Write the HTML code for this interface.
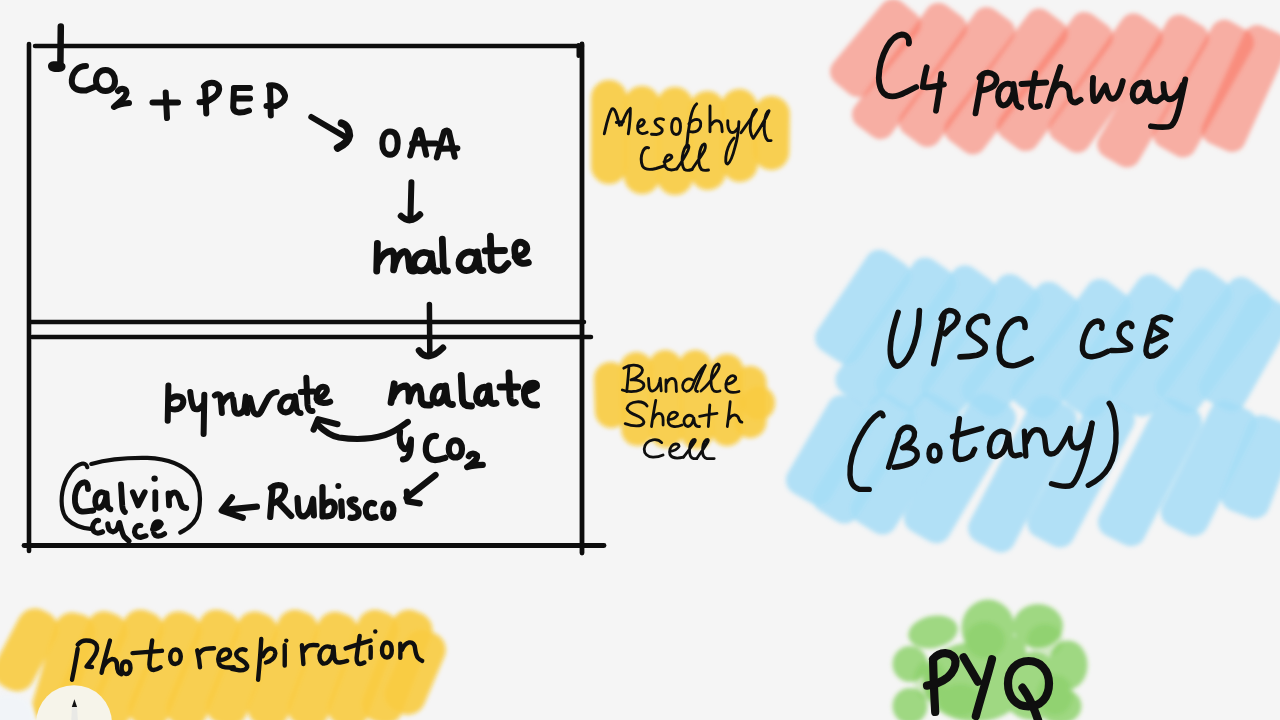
<!DOCTYPE html>
<html><head><meta charset="utf-8"><title>C4 Pathway</title>
<style>
html,body{margin:0;padding:0;background:#f5f5f5;width:1280px;height:720px;overflow:hidden;font-family:"Liberation Sans",sans-serif;}
svg{display:block}
</style></head><body>
<svg width="1280" height="720" viewBox="0 0 1280 720">
<defs>
<filter id="soft" filterUnits="userSpaceOnUse" x="0" y="0" width="1280" height="720"><feGaussianBlur stdDeviation="2"/></filter>
</defs>
<rect width="1280" height="720" fill="#f5f5f5"/>
<g filter="url(#soft)">
<rect x="-52.2" y="-23.0" width="104.4" height="46" rx="13.8" fill="#fa735e" fill-opacity="0.55" transform="translate(875.5 48.0) rotate(-50.1)"/>
<rect x="-74.7" y="-23.0" width="149.4" height="46" rx="13.8" fill="#fa735e" fill-opacity="0.55" transform="translate(909.5 71.0) rotate(-53.4)"/>
<rect x="-76.6" y="-23.0" width="153.2" height="46" rx="13.8" fill="#fa735e" fill-opacity="0.55" transform="translate(957.0 77.0) rotate(-54.0)"/>
<rect x="-81.0" y="-23.0" width="162.0" height="46" rx="13.8" fill="#fa735e" fill-opacity="0.55" transform="translate(1006.0 81.5) rotate(-52.8)"/>
<rect x="-76.2" y="-23.0" width="152.4" height="46" rx="13.8" fill="#fa735e" fill-opacity="0.55" transform="translate(1055.0 81.5) rotate(-53.8)"/>
<rect x="-75.7" y="-23.0" width="151.5" height="46" rx="13.8" fill="#fa735e" fill-opacity="0.55" transform="translate(1105.5 83.0) rotate(-54.9)"/>
<rect x="-81.1" y="-23.0" width="162.2" height="46" rx="13.8" fill="#fa735e" fill-opacity="0.55" transform="translate(1153.0 91.0) rotate(-59.6)"/>
<rect x="-71.9" y="-23.0" width="143.8" height="46" rx="13.8" fill="#fa735e" fill-opacity="0.55" transform="translate(1203.5 88.5) rotate(-60.4)"/>
<rect x="-64.2" y="-23.0" width="128.4" height="46" rx="13.8" fill="#fa735e" fill-opacity="0.55" transform="translate(1244.5 88.5) rotate(-65.6)"/>
</g>
<g filter="url(#soft)"><g opacity="0.36">
<rect x="-59.1" y="-25.0" width="118.2" height="50" rx="15.0" fill="#5cc8f8" fill-opacity="1" transform="translate(863.0 307.0) rotate(-56.0)"/>
<rect x="-80.4" y="-25.0" width="160.9" height="50" rx="15.0" fill="#5cc8f8" fill-opacity="1" transform="translate(896.0 332.0) rotate(-55.1)"/>
<rect x="-78.8" y="-25.0" width="157.6" height="50" rx="15.0" fill="#5cc8f8" fill-opacity="1" transform="translate(936.0 338.0) rotate(-54.3)"/>
<rect x="-76.4" y="-25.0" width="152.8" height="50" rx="15.0" fill="#5cc8f8" fill-opacity="1" transform="translate(981.0 344.0) rotate(-53.0)"/>
<rect x="-74.1" y="-25.0" width="148.2" height="50" rx="15.0" fill="#5cc8f8" fill-opacity="1" transform="translate(1020.5 349.5) rotate(-52.1)"/>
<rect x="-76.4" y="-25.0" width="152.8" height="50" rx="15.0" fill="#5cc8f8" fill-opacity="1" transform="translate(1071.0 349.0) rotate(-53.0)"/>
<rect x="-78.4" y="-25.0" width="156.8" height="50" rx="15.0" fill="#5cc8f8" fill-opacity="1" transform="translate(1121.0 346.5) rotate(-54.1)"/>
<rect x="-80.3" y="-25.0" width="160.7" height="50" rx="15.0" fill="#5cc8f8" fill-opacity="1" transform="translate(1171.5 342.5) rotate(-54.6)"/>
<rect x="-74.0" y="-25.0" width="148.0" height="50" rx="15.0" fill="#5cc8f8" fill-opacity="1" transform="translate(1214.0 345.5) rotate(-53.5)"/>
<rect x="-60.5" y="-25.0" width="120.9" height="50" rx="15.0" fill="#5cc8f8" fill-opacity="1" transform="translate(1245.0 352.5) rotate(-60.3)"/>
<rect x="-55.6" y="-25.0" width="111.1" height="50" rx="15.0" fill="#5cc8f8" fill-opacity="1" transform="translate(830.0 450.0) rotate(-59.7)"/>
<rect x="-67.8" y="-25.0" width="135.7" height="50" rx="15.0" fill="#5cc8f8" fill-opacity="1" transform="translate(864.0 458.5) rotate(-57.9)"/>
<rect x="-74.8" y="-25.0" width="149.6" height="50" rx="15.0" fill="#5cc8f8" fill-opacity="1" transform="translate(905.5 463.5) rotate(-58.1)"/>
<rect x="-78.9" y="-25.0" width="157.8" height="50" rx="15.0" fill="#5cc8f8" fill-opacity="1" transform="translate(960.0 468.0) rotate(-59.5)"/>
<rect x="-81.2" y="-25.0" width="162.4" height="50" rx="15.0" fill="#5cc8f8" fill-opacity="1" transform="translate(1022.5 474.0) rotate(-62.5)"/>
<rect x="-78.7" y="-25.0" width="157.5" height="50" rx="15.0" fill="#5cc8f8" fill-opacity="1" transform="translate(1081.0 471.5) rotate(-62.0)"/>
<rect x="-76.5" y="-25.0" width="153.0" height="50" rx="15.0" fill="#5cc8f8" fill-opacity="1" transform="translate(1150.0 472.0) rotate(-62.8)"/>
<rect x="-69.3" y="-25.0" width="138.6" height="50" rx="15.0" fill="#5cc8f8" fill-opacity="1" transform="translate(1209.0 468.0) rotate(-63.4)"/>
<rect x="-50.3" y="-25.0" width="100.7" height="50" rx="15.0" fill="#5cc8f8" fill-opacity="1" transform="translate(1258.0 467.0) rotate(-69.0)"/>
</g>
<rect x="-59.1" y="-25.0" width="118.2" height="50" rx="15.0" fill="#5cc8f8" fill-opacity="0.13" transform="translate(863.0 307.0) rotate(-56.0)"/>
<rect x="-80.4" y="-25.0" width="160.9" height="50" rx="15.0" fill="#5cc8f8" fill-opacity="0.13" transform="translate(896.0 332.0) rotate(-55.1)"/>
<rect x="-78.8" y="-25.0" width="157.6" height="50" rx="15.0" fill="#5cc8f8" fill-opacity="0.13" transform="translate(936.0 338.0) rotate(-54.3)"/>
<rect x="-76.4" y="-25.0" width="152.8" height="50" rx="15.0" fill="#5cc8f8" fill-opacity="0.13" transform="translate(981.0 344.0) rotate(-53.0)"/>
<rect x="-74.1" y="-25.0" width="148.2" height="50" rx="15.0" fill="#5cc8f8" fill-opacity="0.13" transform="translate(1020.5 349.5) rotate(-52.1)"/>
<rect x="-76.4" y="-25.0" width="152.8" height="50" rx="15.0" fill="#5cc8f8" fill-opacity="0.13" transform="translate(1071.0 349.0) rotate(-53.0)"/>
<rect x="-78.4" y="-25.0" width="156.8" height="50" rx="15.0" fill="#5cc8f8" fill-opacity="0.13" transform="translate(1121.0 346.5) rotate(-54.1)"/>
<rect x="-80.3" y="-25.0" width="160.7" height="50" rx="15.0" fill="#5cc8f8" fill-opacity="0.13" transform="translate(1171.5 342.5) rotate(-54.6)"/>
<rect x="-74.0" y="-25.0" width="148.0" height="50" rx="15.0" fill="#5cc8f8" fill-opacity="0.13" transform="translate(1214.0 345.5) rotate(-53.5)"/>
<rect x="-60.5" y="-25.0" width="120.9" height="50" rx="15.0" fill="#5cc8f8" fill-opacity="0.13" transform="translate(1245.0 352.5) rotate(-60.3)"/>
<rect x="-55.6" y="-25.0" width="111.1" height="50" rx="15.0" fill="#5cc8f8" fill-opacity="0.13" transform="translate(830.0 450.0) rotate(-59.7)"/>
<rect x="-67.8" y="-25.0" width="135.7" height="50" rx="15.0" fill="#5cc8f8" fill-opacity="0.13" transform="translate(864.0 458.5) rotate(-57.9)"/>
<rect x="-74.8" y="-25.0" width="149.6" height="50" rx="15.0" fill="#5cc8f8" fill-opacity="0.13" transform="translate(905.5 463.5) rotate(-58.1)"/>
<rect x="-78.9" y="-25.0" width="157.8" height="50" rx="15.0" fill="#5cc8f8" fill-opacity="0.13" transform="translate(960.0 468.0) rotate(-59.5)"/>
<rect x="-81.2" y="-25.0" width="162.4" height="50" rx="15.0" fill="#5cc8f8" fill-opacity="0.13" transform="translate(1022.5 474.0) rotate(-62.5)"/>
<rect x="-78.7" y="-25.0" width="157.5" height="50" rx="15.0" fill="#5cc8f8" fill-opacity="0.13" transform="translate(1081.0 471.5) rotate(-62.0)"/>
<rect x="-76.5" y="-25.0" width="153.0" height="50" rx="15.0" fill="#5cc8f8" fill-opacity="0.13" transform="translate(1150.0 472.0) rotate(-62.8)"/>
<rect x="-69.3" y="-25.0" width="138.6" height="50" rx="15.0" fill="#5cc8f8" fill-opacity="0.13" transform="translate(1209.0 468.0) rotate(-63.4)"/>
<rect x="-50.3" y="-25.0" width="100.7" height="50" rx="15.0" fill="#5cc8f8" fill-opacity="0.13" transform="translate(1258.0 467.0) rotate(-69.0)"/>
</g>
<g filter="url(#soft)">
<g opacity="0.64">
<rect x="-52.0" y="-18.0" width="104.0" height="36" rx="18.0" fill="#f9c010" fill-opacity="1" transform="translate(609.0 132.0) rotate(-90.0)"/>
<rect x="-54.0" y="-18.0" width="108.0" height="36" rx="18.0" fill="#f9c010" fill-opacity="1" transform="translate(642.0 140.0) rotate(-90.0)"/>
<rect x="-54.0" y="-18.0" width="108.0" height="36" rx="18.0" fill="#f9c010" fill-opacity="1" transform="translate(675.0 141.0) rotate(-90.0)"/>
<rect x="-49.5" y="-18.0" width="99.0" height="36" rx="18.0" fill="#f9c010" fill-opacity="1" transform="translate(707.5 140.5) rotate(-90.6)"/>
<rect x="-46.5" y="-18.0" width="93.0" height="36" rx="18.0" fill="#f9c010" fill-opacity="1" transform="translate(739.5 135.5) rotate(-90.6)"/>
<rect x="-37.0" y="-18.0" width="74.0" height="36" rx="18.0" fill="#f9c010" fill-opacity="1" transform="translate(771.5 133.0) rotate(-89.2)"/>
<rect x="-33.0" y="-16.5" width="66.0" height="33" rx="16.5" fill="#f9c010" fill-opacity="1" transform="translate(611.0 395.0) rotate(-91.7)"/>
<rect x="-47.0" y="-16.5" width="94.0" height="33" rx="16.5" fill="#f9c010" fill-opacity="1" transform="translate(637.0 399.0) rotate(-91.2)"/>
<rect x="-49.0" y="-16.5" width="98.0" height="33" rx="16.5" fill="#f9c010" fill-opacity="1" transform="translate(666.0 399.0) rotate(-91.2)"/>
<rect x="-49.5" y="-16.5" width="99.0" height="33" rx="16.5" fill="#f9c010" fill-opacity="1" transform="translate(696.0 399.5) rotate(-91.2)"/>
<rect x="-46.0" y="-16.5" width="92.0" height="33" rx="16.5" fill="#f9c010" fill-opacity="1" transform="translate(727.0 400.0) rotate(-90.0)"/>
<rect x="-36.0" y="-16.5" width="72.0" height="33" rx="16.5" fill="#f9c010" fill-opacity="1" transform="translate(750.0 402.0) rotate(-90.0)"/>
<rect x="-17.1" y="-16.5" width="34.1" height="33" rx="16.5" fill="#f9c010" fill-opacity="1" transform="translate(758.5 403.0) rotate(-85.0)"/>
<rect x="-42.9" y="-21.0" width="85.9" height="42" rx="18.0" fill="#f9c010" fill-opacity="1" transform="translate(26.0 650.0) rotate(-62.2)"/>
<rect x="-57.3" y="-21.0" width="114.6" height="42" rx="18.0" fill="#f9c010" fill-opacity="1" transform="translate(64.0 669.0) rotate(-73.8)"/>
<rect x="-60.9" y="-21.0" width="121.9" height="42" rx="18.0" fill="#f9c010" fill-opacity="1" transform="translate(90.0 670.0) rotate(-66.8)"/>
<rect x="-61.5" y="-21.0" width="122.9" height="42" rx="18.0" fill="#f9c010" fill-opacity="1" transform="translate(127.0 669.0) rotate(-68.0)"/>
<rect x="-60.5" y="-21.0" width="121.1" height="42" rx="18.0" fill="#f9c010" fill-opacity="1" transform="translate(165.0 670.0) rotate(-67.7)"/>
<rect x="-61.5" y="-21.0" width="122.9" height="42" rx="18.0" fill="#f9c010" fill-opacity="1" transform="translate(203.0 669.0) rotate(-68.0)"/>
<rect x="-59.2" y="-21.0" width="118.5" height="42" rx="18.0" fill="#f9c010" fill-opacity="1" transform="translate(242.0 669.0) rotate(-68.2)"/>
<rect x="-60.7" y="-21.0" width="121.5" height="42" rx="18.0" fill="#f9c010" fill-opacity="1" transform="translate(283.0 669.0) rotate(-69.8)"/>
<rect x="-59.8" y="-21.0" width="119.6" height="42" rx="18.0" fill="#f9c010" fill-opacity="1" transform="translate(323.0 670.0) rotate(-69.4)"/>
<rect x="-60.7" y="-21.0" width="121.5" height="42" rx="18.0" fill="#f9c010" fill-opacity="1" transform="translate(363.0 669.0) rotate(-69.8)"/>
<rect x="-58.9" y="-21.0" width="117.7" height="42" rx="18.0" fill="#f9c010" fill-opacity="1" transform="translate(397.0 667.0) rotate(-69.1)"/>
<rect x="-43.5" y="-21.0" width="86.9" height="42" rx="18.0" fill="#f9c010" fill-opacity="1" transform="translate(415.0 672.0) rotate(-67.0)"/>
</g>
<g opacity="1">
<rect x="-52.0" y="-18.0" width="104.0" height="36" rx="18.0" fill="#f9c010" fill-opacity="0.22" transform="translate(609.0 132.0) rotate(-90.0)"/>
<rect x="-54.0" y="-18.0" width="108.0" height="36" rx="18.0" fill="#f9c010" fill-opacity="0.22" transform="translate(642.0 140.0) rotate(-90.0)"/>
<rect x="-54.0" y="-18.0" width="108.0" height="36" rx="18.0" fill="#f9c010" fill-opacity="0.22" transform="translate(675.0 141.0) rotate(-90.0)"/>
<rect x="-49.5" y="-18.0" width="99.0" height="36" rx="18.0" fill="#f9c010" fill-opacity="0.22" transform="translate(707.5 140.5) rotate(-90.6)"/>
<rect x="-46.5" y="-18.0" width="93.0" height="36" rx="18.0" fill="#f9c010" fill-opacity="0.22" transform="translate(739.5 135.5) rotate(-90.6)"/>
<rect x="-37.0" y="-18.0" width="74.0" height="36" rx="18.0" fill="#f9c010" fill-opacity="0.22" transform="translate(771.5 133.0) rotate(-89.2)"/>
<rect x="-33.0" y="-16.5" width="66.0" height="33" rx="16.5" fill="#f9c010" fill-opacity="0.22" transform="translate(611.0 395.0) rotate(-91.7)"/>
<rect x="-47.0" y="-16.5" width="94.0" height="33" rx="16.5" fill="#f9c010" fill-opacity="0.22" transform="translate(637.0 399.0) rotate(-91.2)"/>
<rect x="-49.0" y="-16.5" width="98.0" height="33" rx="16.5" fill="#f9c010" fill-opacity="0.22" transform="translate(666.0 399.0) rotate(-91.2)"/>
<rect x="-49.5" y="-16.5" width="99.0" height="33" rx="16.5" fill="#f9c010" fill-opacity="0.22" transform="translate(696.0 399.5) rotate(-91.2)"/>
<rect x="-46.0" y="-16.5" width="92.0" height="33" rx="16.5" fill="#f9c010" fill-opacity="0.22" transform="translate(727.0 400.0) rotate(-90.0)"/>
<rect x="-36.0" y="-16.5" width="72.0" height="33" rx="16.5" fill="#f9c010" fill-opacity="0.22" transform="translate(750.0 402.0) rotate(-90.0)"/>
<rect x="-17.1" y="-16.5" width="34.1" height="33" rx="16.5" fill="#f9c010" fill-opacity="0.22" transform="translate(758.5 403.0) rotate(-85.0)"/>
<rect x="-42.9" y="-21.0" width="85.9" height="42" rx="18.0" fill="#f9c010" fill-opacity="0.22" transform="translate(26.0 650.0) rotate(-62.2)"/>
<rect x="-57.3" y="-21.0" width="114.6" height="42" rx="18.0" fill="#f9c010" fill-opacity="0.22" transform="translate(64.0 669.0) rotate(-73.8)"/>
<rect x="-60.9" y="-21.0" width="121.9" height="42" rx="18.0" fill="#f9c010" fill-opacity="0.22" transform="translate(90.0 670.0) rotate(-66.8)"/>
<rect x="-61.5" y="-21.0" width="122.9" height="42" rx="18.0" fill="#f9c010" fill-opacity="0.22" transform="translate(127.0 669.0) rotate(-68.0)"/>
<rect x="-60.5" y="-21.0" width="121.1" height="42" rx="18.0" fill="#f9c010" fill-opacity="0.22" transform="translate(165.0 670.0) rotate(-67.7)"/>
<rect x="-61.5" y="-21.0" width="122.9" height="42" rx="18.0" fill="#f9c010" fill-opacity="0.22" transform="translate(203.0 669.0) rotate(-68.0)"/>
<rect x="-59.2" y="-21.0" width="118.5" height="42" rx="18.0" fill="#f9c010" fill-opacity="0.22" transform="translate(242.0 669.0) rotate(-68.2)"/>
<rect x="-60.7" y="-21.0" width="121.5" height="42" rx="18.0" fill="#f9c010" fill-opacity="0.22" transform="translate(283.0 669.0) rotate(-69.8)"/>
<rect x="-59.8" y="-21.0" width="119.6" height="42" rx="18.0" fill="#f9c010" fill-opacity="0.22" transform="translate(323.0 670.0) rotate(-69.4)"/>
<rect x="-60.7" y="-21.0" width="121.5" height="42" rx="18.0" fill="#f9c010" fill-opacity="0.22" transform="translate(363.0 669.0) rotate(-69.8)"/>
<rect x="-58.9" y="-21.0" width="117.7" height="42" rx="18.0" fill="#f9c010" fill-opacity="0.22" transform="translate(397.0 667.0) rotate(-69.1)"/>
<rect x="-43.5" y="-21.0" width="86.9" height="42" rx="18.0" fill="#f9c010" fill-opacity="0.22" transform="translate(415.0 672.0) rotate(-67.0)"/>
</g>
</g>
<g filter="url(#soft)"><g fill="#5cc02a" opacity="0.56">
<ellipse cx="988" cy="628" rx="26.5" ry="28.5" transform="rotate(0 988 628)"/>
<ellipse cx="1038" cy="626" rx="25" ry="22" transform="rotate(0 1038 626)"/>
<ellipse cx="933" cy="632" rx="25" ry="16" transform="rotate(-12 933 632)"/>
<ellipse cx="910" cy="664" rx="17.5" ry="18" transform="rotate(0 910 664)"/>
<ellipse cx="910" cy="706" rx="17.5" ry="18" transform="rotate(0 910 706)"/>
<ellipse cx="1068" cy="665" rx="19.5" ry="24.5" transform="rotate(0 1068 665)"/>
<ellipse cx="1060" cy="706" rx="21.5" ry="18" transform="rotate(0 1060 706)"/>
<ellipse cx="975" cy="682" rx="52" ry="40" transform="rotate(0 975 682)"/>
<ellipse cx="1032" cy="686" rx="32" ry="34" transform="rotate(0 1032 686)"/>
<ellipse cx="1012" cy="650" rx="14" ry="14" transform="rotate(0 1012 650)"/>
</g>
<g fill="#5cc02a" opacity="0.22">
<ellipse cx="985" cy="640" rx="20" ry="18" transform="rotate(0 985 640)"/>
<ellipse cx="1045" cy="640" rx="18" ry="16" transform="rotate(0 1045 640)"/>
<ellipse cx="930" cy="680" rx="16" ry="20" transform="rotate(0 930 680)"/>
<ellipse cx="1055" cy="695" rx="18" ry="20" transform="rotate(0 1055 695)"/>
<ellipse cx="960" cy="700" rx="22" ry="16" transform="rotate(0 960 700)"/>
</g></g>
<g stroke="#0d0d0d" stroke-linecap="round" fill="none">
<path d="M29 44 L29 551" stroke-width="4.6"/>
<path d="M35 46 L582 46" stroke-width="4.5"/>
<path d="M582 44 L582 553" stroke-width="4.8"/>
<path d="M578.6 45 L578.6 56" stroke-width="4.2"/>
<path d="M31 322 L584 322" stroke-width="4.5"/>
<path d="M32 337 L591 337" stroke-width="4.5"/>
<path d="M24 545.5 L604 545.5" stroke-width="4.8"/>
</g>
<g fill="none" stroke="#0f0f0f" stroke-width="6.5" stroke-linecap="round" stroke-linejoin="round" ><path d="M60.8 26.5 L60.4 63"/></g><path d="M48 66 C48 61.5 53 60.5 58 61.5 C62 62 66 63 65.5 67 C65 71.5 60 72.5 55 72 C50.5 71.5 48 69.5 48 66 Z" fill="#0f0f0f"/><g fill="none" stroke="#0f0f0f" stroke-width="6" stroke-linecap="round" stroke-linejoin="round" ><path d="M86 66 C78 66 72.5 72 71.8 80 C71.2 88 77 91 86 90.5 L94.5 87"/><path d="M105.5 70 C112 70 115 76 115 81 C115 87 111 91 105.5 91 C99.5 91 96 86 96 80.5 C96 75 99.5 70 105.5 70 Z"/><path d="M118 91 C121 87.5 126.5 88.5 126.5 93 C126 98 118 103 114 107 C118 104.5 124 103.5 129 103"/><path d="M152.5 102.6 L178 102.6"/><path d="M165.7 92.5 L167 118"/><path d="M205 86 L206.3 113.4"/><path d="M204 86.5 C208 82 215 81 218.8 86.5 C220.5 92.5 215 97.5 209.5 100.2"/><path d="M199.5 102.2 L207 101.8"/><path d="M234 88 L250 88"/><path d="M234 88.5 L233.2 107.5 C234 113 240 114 249 110.5"/><path d="M235.5 98.4 L250 98.4"/><path d="M270 86.3 L270.8 115.5"/><path d="M269 85.5 C276 84 283 88 285 95.5 C285.5 101 280.5 104 276 106"/><path d="M266.5 106 L272.5 106"/><path d="M311.3 117 L345.2 136.9"/><path d="M390 131.5 C396 131.5 397.7 137 397.7 143 C397.7 150 395 154.8 390 154.8 C385 154.8 382.3 150 382.3 143 C382.3 136.5 385 131.5 390 131.5 Z"/><path d="M410.2 155.5 L416.9 131.6 Q419.5 128.5 421 131.5 L426.2 154.8"/><path d="M412.2 143.5 L436.1 143.5"/><path d="M436.8 157.5 L444.1 131.6 Q447.4 129 449 132 L454.7 156.8"/><path d="M442.8 148.8 L457.4 148.2"/><path d="M411.4 182.3 L410.4 219.5"/></g><g fill="none" stroke="#0f0f0f" stroke-width="6.5" stroke-linecap="round" stroke-linejoin="round" ><path d="M401 216 Q410 225 420 214.5"/></g><g fill="none" stroke="#0f0f0f" stroke-width="7.6" stroke-linecap="round" stroke-linejoin="round" ><path d="M341.5 123.2 C346.5 124.5 349.3 130 349.4 135.5 C348.5 140.5 344 145 337.6 148"/></g><g fill="none" stroke="#0f0f0f" stroke-width="6.8" stroke-linecap="round" stroke-linejoin="round" ><path d="M377.4 243.5 L376.7 271.2"/><path d="M378.1 262.5 C381 256 386 251 392 250.8 C395 252 394.5 262 393.6 269.8 C395 262 399 252 405 251.5 C409 252 408.7 262 409.5 268 C410 271 412 271.5 414.6 271"/><path d="M429.1 253.7 C421 249.5 414 256 413.6 263.5 C413.5 270 420 272 425 270 C430 267 432 259 431.3 253.7 L432.8 266.5 C433.5 270.5 435.5 271.5 438 271"/><path d="M442.3 239.1 L443.3 266.5 C444 270.5 445.5 271.2 447.5 271"/><path d="M476 254 C468 249 459.5 254 459 263 C459 270 466 272 471 269.5 C476 266.5 477.5 258 477.2 252 L479 266.5 C479.5 270 481 271 483 270.5"/><path d="M490.4 236.2 L491.3 264 C492 270 499 271.5 503 269 L507.9 263.5"/><path d="M485 250.8 L504.5 250.5"/><path d="M515.1 256.6 C520 256.5 525.5 254.5 526.8 249 C527 243.5 521 241 517.5 243 C514 245.5 514.3 252 516.3 258.5 C518 263 523 264.5 528.3 262.5"/></g>
<g fill="none" stroke="#0f0f0f" stroke-width="5.5" stroke-linecap="round" stroke-linejoin="round" ><path d="M429.4 304.5 L429.8 355"/></g><g fill="none" stroke="#0f0f0f" stroke-width="6.5" stroke-linecap="round" stroke-linejoin="round" ><path d="M419 350.5 Q428 363 443 347.8"/></g><g fill="none" stroke="#0f0f0f" stroke-width="6.8" stroke-linecap="round" stroke-linejoin="round" ><path d="M394.2 383.8 L391 402.5"/><path d="M392.9 397.4 C395 391 400 386 405.8 385.8 C409 387 409.2 394 409 401.2 C410 395 413 387 418 386.5 C421 388 421.2 395 421.2 400.5 C422 404.5 426 405.5 430.3 405"/><path d="M443.5 387 C438 384.5 433.5 390 433 397.5 C433 402 437 404 440 402.5 C444 400 445.5 394 445.5 386 L447 399.5 C447.5 403.5 450 404.8 452.5 404.5"/><path d="M461.2 375.5 L462.5 400 C463 404.5 466 406.2 471.5 406"/><path d="M487.5 388 C482 385.5 477 390 476.5 397 C476.5 402 480 404.5 483.5 403 C487 401 489 395 488.8 386 L489.8 399.5 C490.5 403.5 493 404 496 403.2"/><path d="M508.9 372.9 L510 397.5 C510.5 403 513 404 515.3 402.5"/><path d="M500 387 L517.9 387"/><path d="M524.3 391 C528 391 533 389.5 536.5 386.5 C537 383 533 382.5 529 384 C525 386 523.5 392 525 398.5 C526.5 403.5 531 405.5 536.6 405"/></g><g fill="none" stroke="#0f0f0f" stroke-width="6.2" stroke-linecap="round" stroke-linejoin="round" ><path d="M407.8 421.9 C402 426 395 432 385 435 C372 439 355 440 339 437.5 C331 436 325 432 318 425"/><path d="M337.5 424.2 L318 419.2 L313.6 429.6"/><path d="M400 431.5 C399 440 400 446 404 448.8 C407.5 450 410 445 410.9 439.5 M410.9 439.5 C411 447 410.5 453 408.5 456 C407 458.5 404.5 459.5 403 459.4"/><path d="M436 436 C431 435 427 439 426 446 C425 454 428 459.5 434 460 C439 460.3 442 459 445.3 457.8"/><path d="M455.4 440.3 C460 440.3 462 444.5 462 449 C462 454.5 459.5 457.5 455.4 457.5 C451 457.5 448.8 453.5 448.8 449 C448.8 444 451 440.3 455.4 440.3 Z"/><path d="M468.8 456.2 C470 453.5 474 452.5 477 455.5 C478 459 472.5 464 467.2 467.2 C472 465.5 477 465 482.8 464.8"/><path d="M435.6 475 L406.5 498"/><path d="M406.8 491.5 L407.6 501.4 L419.7 503.4"/></g><g fill="none" stroke="#0f0f0f" stroke-width="6" stroke-linecap="round" stroke-linejoin="round" ><path d="M168.4 385.5 L167.7 420.7"/><path d="M170.5 398.9 C173 396.5 177 395.5 181 397 C184.5 399.5 184 404.5 180 408 C177 410 174 409.8 171.5 409"/><path d="M190.2 391.9 C191 399 191.5 405 194 408.5 C197 410.5 200.5 408.5 202.5 405.5 M204.3 394.7 L203.6 434"/><path d="M214.9 395.4 C217 393.5 219.5 393.8 220.5 396.5 L221.9 413 M221.9 403.5 C224 399 227.5 395.5 231.7 394.7"/><path d="M233.1 398.9 L234.5 410.5 C236 415 241 415.5 244.4 408.8 L245.8 396.5 L247.2 413"/><path d="M250 398 L253 410.5 C255 415.5 258.5 416 261 411.5 L267 400 C269 395.5 272 392.5 276.7 392"/><path d="M294.5 398 C289 394.5 283 397 280.5 404 C279 410 283 413.5 288 412 C292.5 410.5 294.5 404 295 396 L296.4 408.5 C297.5 412.5 299 413.2 300.6 413"/><path d="M306.3 377.8 L307.5 405 C308 410 310 411.5 312.5 411"/><path d="M300.8 391.9 L313.3 391.5"/><path d="M316.5 398.9 C320 398.5 324.5 396 326.8 391 C327.2 387 323 385.5 319.8 388 C316.5 391 315.8 397 317.5 401 C320 403.5 326 403.5 330.2 401.7"/></g><g fill="none" stroke="#0f0f0f" stroke-width="4.2" stroke-linecap="round" stroke-linejoin="round" ><path d="M87.3 467.2 C86.5 464 84 463 81.5 463.8 C74 466 67 475 63.5 487 C60 500 61.5 513 67 519 C73.5 525.5 83 528.5 92 529.2"/><path d="M91.3 463.9 C105 460 125 457.5 147.3 457.9 C163 458.5 181 462 193.5 476.4 C200 485 201 499 198.8 512 C196.5 522 190 528 180.3 532.5"/></g><g fill="none" stroke="#0f0f0f" stroke-width="5.8" stroke-linecap="round" stroke-linejoin="round" ><path d="M88 489 C88 484 86.5 482 84 482.3 C79 483 76 489 75 496 C74.2 505 77 511 82 511.5 C86 511.8 90 510.8 93.3 510.5"/><path d="M106 494 C101 490 97 493 95.5 498 C94.5 504 96 507.5 99 507.8 C103 507.5 106 501 106.5 493.5 L107.1 505 C108 508 109 509 110.4 509.4"/><path d="M121 484.3 L122.3 506 C122.8 510 124 511.5 124.9 512"/><path d="M132.8 492.2 L138.1 505.4 L144.7 492.2"/><path d="M155.3 492.2 L155.3 509"/><path d="M168.5 493.5 L169.1 505.4 M169.5 497 C171 493.5 173.5 492.2 175.5 492.5 C178.5 493.5 179.5 499 181 504 C182 507 184 508 186.3 508"/></g><circle cx="154.6" cy="478.6" r="3.2" fill="#0f0f0f"/><g fill="none" stroke="#0f0f0f" stroke-width="5.2" stroke-linecap="round" stroke-linejoin="round" ><path d="M98.5 520.5 C96 520 93 523 92.5 527 C92.5 531.5 95.5 533.5 99 533 C100.5 532.7 101.5 532.3 102.5 531.8"/><path d="M107.8 523.9 C108 528 109.5 531.5 113 531.8 C116 531.5 118 528.5 118.8 523 M119.6 522.6 C121 528 122 533 124 536.5 L128.9 541"/><path d="M140.8 525.5 C137 525 134.5 528 134.5 532 C135 536 138 537.5 141 537.3 L146 535.8"/><path d="M152.6 529.2 C156 529.5 160 527 161.2 523.9 C160 521 156 521.2 154 524.5 C152.5 528 152.8 533 155.5 535.5 C158.5 537 162 535.5 164.5 533.8"/></g><g fill="none" stroke="#0f0f0f" stroke-width="6.2" stroke-linecap="round" stroke-linejoin="round" ><path d="M256.9 506.7 L224 509.8"/><path d="M231.9 497.3 L221.7 510.6 L242.8 517.7"/><path d="M272.5 488.75 L270.2 516.9"/><path d="M270.9 488 C273 486 277 484.5 282 485.5 C285.5 487 286 491 283.5 495.5 C281.5 499 277.5 501.5 274 502.8 M278.75 502.8 L291.25 516"/><path d="M297.5 498 L298.3 511 C299 515.5 302 517.2 305 516 C309 514 311 509 313 499 L313.9 515.3"/><path d="M322.5 487.2 L322.5 516.5 M323.3 507 C325.5 502.5 330 500.5 333 502.5 C336 505.5 335 512 331.9 515 C329 516.5 326 516.5 324 516"/><path d="M341.25 501.25 L342 516"/><path d="M355.3 499.7 C353 498.8 350 499.5 349.5 502 C349.5 505 353 506.5 356 508 C359 510 359.5 514 357 516.5 C355 518 352 518 350.6 517.7"/><path d="M374 503.5 C370 501.5 366.5 504 365.8 509.5 C365.5 515 368 518 372 517.8 L375.6 516.9"/><path d="M388.5 503.5 C392.5 503.5 393.5 507.5 393.3 511 C393 515.5 391 518 388 518 C384.5 518 383 514.5 383.3 510.5 C383.5 506.5 385.5 503.5 388.5 503.5 Z"/></g><circle cx="338.3" cy="486" r="3" fill="#0f0f0f"/>
<g fill="none" stroke="#0f0f0f" stroke-width="2.9" stroke-linecap="round" stroke-linejoin="round" ><path d="M604.3 133.8 C606.5 124 608.5 114 611.8 109 C613.8 107.5 615.5 111 617 116 L619.5 125.3"/><path d="M616.3 122.5 C618.5 122 621 121.8 623.3 121.8"/><path d="M621.5 125 C624 118 627 111 630.3 108.4 C630.5 116 629.5 126 628.3 133.8"/><path d="M638.8 126.7 C640.5 126.5 643 126 644.4 122 C644 119.5 641.5 119 640 120.5 C637.5 123 637 128 638.3 131.2 C640 134 644 134 647.2 132.3"/><path d="M663.5 119.5 C660.5 118 655.5 118.5 655 121.8 C655 125.5 660 126.5 662 129.2 C663 132.2 660 134.3 656.5 134.5 L651.5 134.3"/><path d="M676 118.5 C679.5 118.5 680.5 123 680.5 127 C680.5 131.5 679 134.5 676 134.5 C673 134.5 671.5 131 671.6 127 C671.8 122.5 673 118.5 676 118.5 Z"/><path d="M696.7 103.9 C694 106 692 111 690.5 118 C689 126 687.5 136 686.7 147.2"/><path d="M688.9 123.9 C691 121.5 694 119.5 697 119.4 C700 119.5 701.5 122 700.5 126.5 C699 130.5 695.5 132.8 690 131.7"/><path d="M710 106 C710 115 710 124 710 131.7 M711 125 C712.5 122.5 714.5 120.6 716.7 120.6 C720 120.8 721.5 123.5 721.8 127 L722.2 131.7"/><path d="M727.8 120.6 C727.5 125 728 129.5 730.5 132 C733 133.5 736 131.5 737.8 128.3 M738.9 121.7 C738.5 130 737.5 139 735 147 C733 155 730.5 162 727.8 163.9 C725.5 164.5 725 160 726.7 152 C728.5 145 731 141 734 138"/><path d="M741 132.8 C745 127 750 120 754 114 C756 111 757 109.5 756.2 109.5 C754 110 751.5 116 750.5 123 C749.7 129 750 134 753.3 138.3 C757 133 762 125 766 117.5 C768 113.5 769.5 110.5 768.9 110.6 C766.5 111.5 764.8 118 764.3 124 C763.8 131 764.5 137 767.8 140.6 L771.1 140.6"/><path d="M648.6 147.8 C646.5 147 644.5 148 643 151 C641 155.5 641 162 642.5 166 C644.5 169.5 650 170 656 168.5 L664 166"/><path d="M664 161.9 C667 161.5 670 160 671.8 157.5 C672 155 669 154.3 667.3 155.5 C664.5 158 664 163 665.5 167 C667.5 170 672 170.5 676.8 168.9"/><path d="M676.8 168.9 C681 163 685.5 156 688 150.5 C689.5 147 689 145 687.5 145 C685.5 145.5 683 151 682.3 157 C681.8 162 682.5 167 684.5 169.5 C686.5 170.8 689 170.5 692 169.5"/><path d="M692 169.5 C696 163 701.5 156 704.5 150.5 C706 147 705.5 144 704 144 C701.5 145 699.5 151 699 157 C698.5 162 699.5 167 701.5 169.5 C703.5 170.8 706 170.5 708.5 170"/></g><g fill="none" stroke="#0f0f0f" stroke-width="2.8" stroke-linecap="round" stroke-linejoin="round" ><path d="M628.9 366.75 C628.5 375 627.5 384 626.7 391.5"/><path d="M623.75 368.2 C627 366 630 365 634 365.2 C638.5 365.5 642 367 642.5 370 C642.5 374 637.5 377.5 631 379.9 C636 379.5 641 380.5 643.5 383.5 C645 387 642 390 636.5 391.2 C631.5 392 626 391.5 622.3 390"/><path d="M648.5 378.4 L649 386.5 C649.5 390 651 391.5 653 391 C656 390 658.5 386 659.5 382 L660.2 378.4 L661.2 390.8"/><path d="M666 379.9 L666 391.5 M666.5 383.5 C668 380.5 670 378.5 672 378.4 C675 378.5 676 381 676.1 385 L676.4 391.5"/><path d="M692.3 379.9 C689 378 685.5 379 683.5 382.5 C681.5 386.5 683 390.5 686.5 391.3 C690 391 692.5 388 693.5 384 C696 377 700 370 705.4 365.3 C702 372 698 382 696 387 C695 390 695.5 391.5 697.5 391.5"/><path d="M701 391 C707 386 713 378 717.5 371 C719.5 367.5 720 364.5 718 364 C715 364.5 712.5 370 711.5 376 C710.5 383 711.5 389 714 391 C716 392 718 391.6 720 391"/><path d="M725.8 384.25 C729 384 733 382.5 735.5 379.5 C736.5 376.5 733.5 375 731 376 C727 378 725.3 383 726 388 C727.5 392 732 393.5 739 391.5"/><path d="M647.1 406.1 C645.5 403.5 642 401.5 637 401.8 C631.5 402.3 627.5 405 627 408.5 C627.5 412 633 414 638.3 416.3 C642.5 418.5 645 420.5 643.5 423.5 C641 426.5 634 427 625.2 423.6"/><path d="M655.8 400.3 C654 410 652.5 419 651.5 426.5 M652.9 419.25 C654.5 416 656.5 413.5 659 413.4 C662 413.5 663 416 663.1 420 L663.1 425"/><path d="M669 419.25 C672 419.5 675.5 418 677.5 415 C677.8 412.5 674.5 411.5 672 412.5 C668.5 414 667.5 419 668.5 423 C670 426.5 675 428 682 425"/><path d="M692.3 416.3 C689.5 414.5 686.5 415.5 684.5 418.5 C683 422 684.5 426 688 426.5 C691 426 693 422.5 693.75 418 L694.5 423 C695.5 426 697.5 426.8 699.6 426.5"/><path d="M709.8 405 C709.3 413 708.8 420 708.3 426.5 M699.6 416.3 C705 415 711 414 717 413.4"/><path d="M730.2 401.75 C729.5 410 728.3 419 727.3 426.5 M728.75 419.25 C730.5 416.5 732.5 415 734.6 414.9 C737 415.2 738.5 417 739 419.25 C739.5 421 740.5 422 741.9 422.2"/><path d="M661.7 442.6 C659.5 440.2 656 439.3 652.9 439.8 C648 440.7 644.5 444.5 644.2 449 C644 453.5 647.5 457 652.9 457.2 C657 457.3 660 456.5 663.1 455"/><path d="M670.4 451.3 C673.5 451 677 449.5 679 446.5 C679 444 676 443.5 673.5 444.5 C670 446.5 669 451 670 454.5 C671.5 457.5 676 459 683.5 457.2"/><path d="M683.5 457.2 C687.5 452 692 446 695 441.5 C696 439.5 695 439 693 439.8 C690.5 442 689.5 447 689.5 451 C689.5 455 691 458 693.5 458.6 L696.7 458.6"/><path d="M696.7 458.6 C700.5 453 705 447 708 441.5 C709 439.5 708 439 706 439.8 C703.5 442 702.5 447 702.5 451 C702.5 455 704 458 707 458.6 L714.2 458.6"/></g><g fill="none" stroke="#0f0f0f" stroke-width="5.8" stroke-linecap="round" stroke-linejoin="round" ><path d="M908.9 43.5 C909.5 38.5 907 34.5 901.7 34.5 C896 35 891 40 887 47 C882 56 879 67 878.8 77.8 C879 86 881.5 93 887 95.5 C893 97.5 900 95.5 905.6 92.3 L916.2 87"/><path d="M926.7 67.2 C925 74 923.5 81 922.8 87 C928 88 936 86.5 943.9 84.4 M941.2 73.8 C940 87 938 100 936 110.75"/><path d="M982.1 75.1 C980 89 977.5 102 975.5 113.4 M979.5 77.8 C981.5 74.5 984 72.8 988 72.6 C993 73 996.5 76 996.6 80 C996.5 84.5 992 88 986.1 89.6 L979.5 90.9"/><path d="M1011 84.5 C1006 82 1000.5 85.5 998.5 92 C997 99 999 104.5 1003 105.5 C1007.5 105.5 1011.5 100 1013.4 92 L1013.4 84 L1015.8 101 C1016.5 105 1018.5 107.2 1021.25 107.5"/><path d="M1035.3 73.1 C1033.5 84 1031.5 94 1031 100.5 C1031 104.5 1032.5 107 1035 107 C1037 107 1038.5 106.5 1040 106 M1021.5 84 C1029 83.5 1038 83 1046.25 82.5"/><path d="M1060.3 66.9 C1056 80 1051.5 94 1047.8 106 M1052.5 91.9 C1054.5 87.5 1057 84.5 1061 84 C1065 84 1068 86 1069.2 90.5 L1069.7 96.6 C1070.5 101 1073 103 1076 102.5 L1080.6 99.7"/><path d="M1093.1 77.8 C1092.5 86 1092.5 94 1093.5 100 C1095 102.5 1097 101 1099.4 96.6 C1101.5 92.5 1103.5 88.5 1105.6 85.6 C1106.5 90 1107.5 95 1110.3 98.1 C1113 99.5 1115.5 98.5 1117.5 95.5 C1120 91.5 1121.5 86.5 1122.8 81"/><path d="M1146 84 C1141 81 1136 83.5 1133.5 89 C1131.5 95.5 1133 100.5 1137 101.5 C1142 101.5 1146 96 1147.8 88.5 L1147.8 82.5 L1149.4 96 C1150 99.5 1152.5 101.5 1157.2 101.25 L1163.4 96.6"/><path d="M1163.4 84 C1163.5 89 1164 94 1166 97.5 C1168.5 100 1172 99.5 1175.5 96.5 C1179 93.5 1181 89 1182.5 85 M1185.3 79.4 C1183 90 1181 100 1179 108 C1177 116 1175 122 1171.5 125.5 C1168 128 1160 127.5 1150.9 126.25"/></g>
<g fill="none" stroke="#0f0f0f" stroke-width="5.6" stroke-linecap="round" stroke-linejoin="round" ><path d="M898.1 312.5 C895 322 892 332 890.8 342 C889.5 352 890.5 361 895 365.5 C899 367.5 904 363.5 908 357.5 C913.5 349 917 335 918.5 325 L919.4 310.6"/><path d="M943.75 316.25 C941 331 937 348 933.75 363.75 M941.25 318.75 C943 314 945.5 311 949 310.5 C953 310.3 957 312.5 958 316.5 C958.5 321.5 954 326 949 329.5 L945 333.75"/><path d="M987.5 322.5 C987.8 319 986.5 316.5 983 316 C978.5 315.5 973 318.5 970 323 C967.5 327.5 968 332 972 335 C976.5 338 982 341 985 345.5 C986 350 983 353.5 977 355.3 C972 356.3 966 356.8 960 356.9"/><path d="M1025 327.5 C1025.5 322 1023 318.5 1018.5 318.8 C1012 319.5 1006 326 1002 335 C999 343 998.5 352 1000.5 359 C1003 364.5 1008.5 366.3 1015 365.5 C1021 364.5 1026 361.5 1031.25 358.75"/></g><g fill="none" stroke="#0f0f0f" stroke-width="5.4" stroke-linecap="round" stroke-linejoin="round" ><path d="M1101.8 328.2 C1103 324.5 1101.5 321 1097.5 321 C1093 321.5 1089 325.5 1086.5 331 C1083.5 337.5 1082 344.5 1082.5 350 C1083.5 355 1087 357 1092 356.7 C1098 356.2 1103 354 1107.8 351.4"/><path d="M1131.9 326.5 C1132 323.5 1129.5 322.3 1126 323.2 C1122 324.5 1119.5 328 1119 332.5 C1118.8 337 1121.5 340 1126 342.5 C1130 344.5 1131.5 346.5 1130 348.8 C1128 350.5 1122 350.8 1111.25 350.5"/><path d="M1153.4 321.3 C1150.5 330 1148 340 1146.3 347 C1145.3 352 1146.5 355.5 1150 356.3 C1155 356.5 1160.5 352.5 1165.4 347.1"/><path d="M1153.4 320.5 C1156 318.5 1158.5 317.3 1161.1 317 C1164.5 316.8 1167.5 317.8 1170.5 319.6"/><path d="M1154.2 326.5 L1166.25 334.2 L1151.6 341"/></g><g fill="none" stroke="#0f0f0f" stroke-width="5.4" stroke-linecap="round" stroke-linejoin="round" ><path d="M883 415.8 C882.5 413 881 412.5 879 413.5 C873 417 866 426 860 437 C853.5 449 849.5 463 850 475 C850.5 483 854 488 859.4 489.4 L869.2 489.4"/><path d="M898.3 436.7 C895 447 891.5 458 888.6 467.2"/><path d="M898.3 435.3 C900 431 902.5 428 906 427.3 C910 426.8 913.5 428.5 914.5 432.5 C915 437 912 442.5 906 446 L902.5 447.8 C908 447 913.5 448 916.5 451.5 C918.5 455.5 916.5 460 911.5 463 C906 465.5 900 466.8 894.2 467.2"/><path d="M934.4 445.5 C938.5 445.5 940 449.5 940 453.5 C940 458.5 937.5 461 934.4 461 C930.5 461 929 457.5 929 453.5 C929 449 931 445.5 934.4 445.5 Z"/><path d="M959.4 418.6 C958 430 956 442 955.3 450 C955 456 956.5 459.5 960 459.5 C964.5 459.5 969 457.5 972 455 L974.7 449.2"/><path d="M952.5 436.7 C962 434 972 431 981.7 428.3"/><path d="M1006 432.5 C1001 429.5 995.5 432 992 438 C989 444 988.5 451 991 455 C994 458 999 456.5 1002.5 452.5 C1006 448 1007.5 441 1008.5 434 L1010.3 449.5 C1011 454 1013 456 1016 455.7 L1020.3 454.7"/><path d="M1024.4 431.1 C1024.8 440 1025.3 449 1025.8 456.1 M1026.5 442 C1028.5 436 1031 431 1035 429.8 C1039 429.2 1042.5 431 1044 435.5 C1045.5 440 1045 446 1046.5 451 C1048.5 455 1053 455 1057 451.5 C1062 446 1066.5 437 1070.2 428.5"/><path d="M1070.2 428.5 C1069.5 436 1069.5 443 1073 447 C1077 449.5 1083 447 1086.5 441.5 C1089 436 1090.5 430 1092 423.3"/><path d="M1092 423.3 C1090 438 1086.5 452 1082.5 464 C1079.5 473 1076.5 481 1072 485 C1067 487.5 1059 486 1051.5 483.75"/><path d="M1109.2 403.3 C1113 408 1115.5 420 1116 433 C1116.5 446 1114 458 1109 467 C1104.5 475 1097 481 1088.3 485.3"/></g><g fill="none" stroke="#0f0f0f" stroke-width="8.2" stroke-linecap="round" stroke-linejoin="round" ><path d="M933.1 661.3 C933.5 678 934.3 695 935.2 712"/><path d="M933.1 659.2 C936.5 655 940.5 653 945.3 653.1 C951 653.5 955 657 955.5 661.3 C955.8 667 953 672.5 947.5 677.5 C943 681 935 684.5 927 685.6"/><path d="M963.6 657.2 C968 665 973 673 977.8 681.6 M992 659.2 C987 678 981 697 975.8 716.1"/><path d="M1028.6 661 C1040 661 1049 670 1049 683.5 C1049 697.5 1040.5 706.5 1028.6 706.5 C1016.5 706.5 1008 697.5 1008 683.5 C1008 670 1016.5 661 1028.6 661 Z"/><path d="M1022.5 687.7 C1028 695 1033.5 706 1038.75 722"/></g><g fill="none" stroke="#0f0f0f" stroke-width="4.4" stroke-linecap="round" stroke-linejoin="round" ><path d="M77.7 648.9 C76 660 74 670 72 679.8"/><path d="M77.7 644.7 C80 642 83 640.5 86.1 640.5 C90.5 640.5 94.5 641.5 96.5 645 C98 649 96 654 93 658 C90.5 661.5 88 664.5 86.5 666.5 L92 667"/><path d="M110 640.5 C107 651 104 662 101.6 672.8 M103 667.2 C105.5 663 108.5 660 112 659 C115.5 659 117 661.5 117 665.5 C117 669.5 118 673 121.25 674.2"/><path d="M126 661.5 C129.5 661.5 130.5 665 130.5 668 C130.5 671.5 128.5 674 126 674 C123 674 121.5 671 121.6 668 C121.7 664.5 123 661.5 126 661.5 Z"/><path d="M152.2 640.5 C151 650 149.5 659 149.4 664.5 C149.5 668.5 151 670 153.6 670 C156.5 669.8 158.5 668.5 160.6 667.2 M132.5 653.1 C142 652.3 152 651.5 162 650.8"/><path d="M175.4 649.5 C179 649.5 180.8 653 180.8 656.6 C180.8 661 178.5 664 175.4 664 C172 664 170 661 170.2 656.6 C170.4 652.5 172.5 649.5 175.4 649.5 Z"/><path d="M197.2 650.3 C198.5 656 199.5 661 200 667.2 M198.6 654.5 C200.5 651.5 203 649.3 205.6 648.9 C208.5 648.3 211 648.2 214 648.2"/><path d="M218.3 660.2 C221.5 660.2 225 659.5 228 657.5 C230.5 655.5 231 652.5 228.5 650 C225.5 648.5 222 650 220 653 C218 656.5 218 661 219.5 664.5 C221.5 667.5 226 668 233.8 667.2"/><path d="M245.6 650 C243 649 239.5 649.5 237.5 651.5 C235 654 236.5 657.5 240.5 659.5 C244 661.5 247.5 664 247.2 667 C246 670 242.5 670.5 239.4 670.3 L231.6 668.75"/><path d="M261.25 639 C260.5 653 259.3 667 258.1 679.7 M262.8 656.25 C264.5 652 266.5 649.3 269.5 648.6 C273 648.3 275.5 650 275.3 653.5 C274.8 657.5 271 661 266 662.5"/><path d="M284.7 645.3 C284.8 652 284.8 659 284.7 665.6"/><path d="M301.9 645.3 C302.5 652 303 658 303.4 664 M303.4 651.6 C305 648.3 307 646 309.7 645.3 C312.5 644.8 315 645 317.5 645.3"/><path d="M330 646.9 C326.5 645.5 322.5 647.5 320.5 651.5 C318.5 656 319.5 661.5 323 663.5 C327 664.5 331 660 332.5 654.5 L333.5 647 L334.3 658 C335 661.5 337 662.8 340 662.5 C343 662 345 661.5 347.2 660.9"/><path d="M359.7 636 C358.5 645 357 653 356.6 658 C356.5 662 358 664 360 664 C361.5 664 363 663.3 364.4 662.5 M345.6 648.4 C354 645.5 362 643 370.6 640.6"/><path d="M370.6 646.9 C370.8 650.5 370.8 654 370.6 657.8"/><path d="M387 642.5 C390.5 642.5 391.8 646.5 391.8 650.5 C391.8 654.5 390 657.5 387 657.5 C383.8 657.5 382 654.5 382 650.5 C382 646 383.8 642.5 387 642.5 Z"/><path d="M400.3 643.75 C400.5 648.5 400.5 653 400.3 657.8 M401.9 650 C403.5 646 406 643 409.2 642.4 C412.5 642 414.5 644 415 648 C415.5 652 416 655.5 418 658 C419.5 659.8 421 660.5 422.2 660.9"/></g><circle cx="286.3" cy="640.6" r="2.2" fill="#0f0f0f"/><circle cx="375.3" cy="631.5" r="2.2" fill="#0f0f0f"/>
<ellipse cx="8" cy="716" rx="26" ry="22" fill="#f1f4f8" filter="url(#soft)"/>
<circle cx="74" cy="723.2" r="38" fill="#f6f4ea"/>
<path d="M71.3 720 L71.9 706.7 L77.1 706.7 L77.8 720 Z" fill="#e9e9e6"/>
<path d="M71.8 706.9 L74.4 699.3 L77.1 706.9 Z" fill="#111"/>
</svg>
</body></html>
